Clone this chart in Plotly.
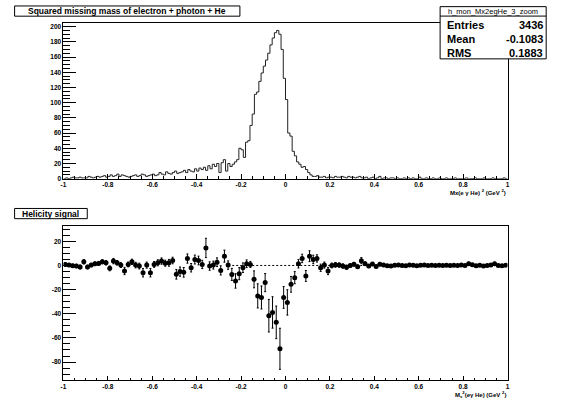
import numpy as np
import plotly.graph_objects as go

W, H = 569, 409

# squared missing mass histogram, 200 bins of 0.01 from -1 to 1
mm2_counts = [
    0, 1, 0, 1, 2, 1, 1, 2, 1, 1,
    1, 3, 2, 1, 2, 3, 2, 3, 4, 2,
    3, 5, 3, 4, 6, 3, 5, 4, 3, 2,
    3, 4, 5, 3, 4, 6, 5, 3, 4, 5,
    6, 4, 5, 8, 6, 5, 9, 7, 6, 8,
    10, 7, 8, 9, 11, 8, 12, 10, 9, 13,
    10, 14, 12, 15, 11, 17, 13, 19, 16, 20,
    8, 21, 25, 10, 20, 16, 19, 22, 25, 40,
    38, 28, 48, 50, 70, 85, 111, 114, 128, 139,
    148, 156, 165, 176, 185, 192, 195, 190, 170, 132,
    104, 60, 56, 36, 30, 22, 19, 15, 16, 12,
    8, 5, 3, 3, 4, 2, 2, 3, 1, 2,
    2, 1, 3, 2, 2, 3, 2, 1, 3, 2,
    2, 1, 2, 3, 1, 1, 2, 0, 1, 2,
    0, 1, 3, 0, 1, 1, 0, 1, 1, 0,
    1, 0, 0, 1, 0, 1, 0, 1, 0, 0,
    2, 0, 0, 1, 0, 0, 1, 0, 0, 1,
    0, 0, 1, 0, 0, 0, 1, 0, 0, 0,
    0, 1, 0, 0, 0, 1, 0, 0, 0, 1,
    0, 0, 0, 1, 0, 0, 0, 0, 1, 0,
]

# helicity signal, 120 bins from -1 to 1
hel_values = [
    0.85, 0.3, -0.2, -0.5, -1.3, 3, -1.3, 0.3, 1.4, 1.7,
    3, 2.2, -2.4, 3.6, 2.2, 0.3, -4.6, 0.85, 3, 0.3,
    -0.5, -6, 0.3, -6, 0.85, 2.2, 3.6, 1.9, 2.2, 4.1,
    -7.3, -5.1, -5.7, 5.7, -1.9, 4.9, 4.1, 0.85, 14.5, -0.5,
    0.3, 2.7, -4.1, 7.7, 0.3, -7.4, -12.8, -6.8, -1.9, 1.4,
    0.85, -11.5, -25.2, -26.5, -14.2, -41.6, -38.9, -47.1, -69, -26.5,
    -30.6, -15.6, -10.1, 1.4, 5.8, -8.7, 7.7, 5, 5.8, -1.9,
    0.3, -4.6, 0, 0.5, 0.3, -0.5, -1.5, 0, 1, -1,
    4, 1.5, -0.5, 1.2, -0.8, 1, 0.3, -0.3, -0.5, 0.2,
    0.4, 0, -0.3, 0.3, 0.2, -0.2, 0.1, 0.3, 0, 0.2,
    -0.1, 0.1, 0, 0.2, 0, 0.1, -0.1, 0.4, 0, 1.5,
    0.5, -0.3, 0.2, -0.5, 0, 0.3, 1.5, 0, -0.3, 0.2,
]
hel_errors = [
    1.5, 1.2, 1.3, 1.4, 1.6, 1.8, 1.5, 1.4, 1.5, 1.6,
    1.7, 1.8, 2.0, 2.2, 1.9, 2.0, 3.0, 2.0, 2.2, 2.3,
    2.4, 3.5, 2.5, 3.5, 2.4, 2.5, 2.6, 2.5, 2.8, 2.7,
    4.0, 3.8, 4.0, 3.8, 3.5, 3.7, 3.6, 3.4, 8, 3.5,
    3.3, 3.6, 3.8, 5, 3.5, 5, 6, 5, 4, 3.2,
    2.5, 7, 10, 9.5, 7.5, 13.5, 13, 13.5, 17, 9,
    10.5, 6.5, 5, 3.5, 3.5, 4.5, 4.5, 3.5, 3, 3,
    2.5, 3, 2, 2, 1.8, 1.8, 1.8, 1.5, 1.5, 1.5,
    2.5, 1.5, 1.3, 1.3, 1.2, 1.2, 1.1, 1.1, 1.0, 1.0,
    1.0, 1.0, 0.9, 0.9, 0.9, 0.9, 0.8, 0.8, 0.8, 0.8,
    0.8, 0.8, 0.8, 0.8, 0.8, 0.8, 0.8, 0.8, 0.8, 1.2,
    0.8, 0.8, 0.8, 0.8, 0.8, 0.8, 1.2, 0.8, 0.8, 0.8,
]

x_tick_vals = [-1, -0.8, -0.6, -0.4, -0.2, 0, 0.2, 0.4, 0.6, 0.8, 1]
x_tick_text = ["-1", "-0.8", "-0.6", "-0.4", "-0.2", "0", "0.2", "0.4", "0.6", "0.8", "1"]
top_y_ticks = [0, 20, 40, 60, 80, 100, 120, 140, 160, 180, 200]
bot_y_ticks = [-80, -60, -40, -20, 0, 20]
bot_y_text = ["-80", "-60", "-40", "-20", "0", "20"]

stats_name = "h_mon_Mx2egHe_3_zoom"
stats_rows = [("Entries", "3436"), ("Mean", "-0.1083"), ("RMS", "0.1883")]

FONT = "Liberation Sans"


def px(x):
    return x / W


def py(y):
    return 1 - y / H


edges = np.linspace(-1, 1, len(mm2_counts) + 1)
step_y = list(mm2_counts) + [mm2_counts[-1]]
centers = -1 + (np.arange(len(hel_values)) + 0.5) * (2 / len(hel_values))

fig = go.Figure()

fig.add_trace(go.Scatter(
    x=edges, y=step_y, mode="lines", line_shape="hv",
    line=dict(color="#222", width=1), xaxis="x", yaxis="y", hoverinfo="skip"))

# zero reference line under the points
fig.add_trace(go.Scatter(
    x=[-0.24, 1], y=[0, 0], mode="lines",
    line=dict(color="black", width=1, dash="2px,2px"), xaxis="x2", yaxis="y2"))

fig.add_trace(go.Scatter(
    x=centers, y=hel_values, mode="markers",
    marker=dict(color="black", size=5),
    error_y=dict(type="data", array=hel_errors, color="black", thickness=1, width=1),
    xaxis="x2", yaxis="y2"))

tickfont = dict(family=FONT, size=6.5, color="black", weight="bold")
common_x = dict(
    range=[-1, 1], tickmode="array", tickvals=x_tick_vals, ticktext=x_tick_text,
    ticks="inside", ticklen=4.5, tickcolor="black", tickfont=tickfont,
    showline=True, mirror=True, linecolor="black", linewidth=1,
    showgrid=False, zeroline=False,
    minor=dict(tick0=-1, dtick=0.05, ticks="inside", ticklen=2.5, tickcolor="black"),
)
common_y = dict(
    ticks="inside", ticklen=13, tickcolor="black", tickfont=tickfont,
    showline=True, mirror=True, linecolor="black", linewidth=1,
    showgrid=False, zeroline=False,
    minor=dict(dtick=5, ticks="inside", ticklen=7, tickcolor="black"),
)

fig.update_layout(
    width=W, height=H, autosize=False,
    margin=dict(l=0, r=0, t=0, b=0),
    paper_bgcolor="white", plot_bgcolor="white",
    showlegend=False,
    font=dict(family=FONT, color="black"),
    xaxis=dict(domain=[px(61), px(509)], anchor="y", **common_x),
    yaxis=dict(domain=[py(180), py(23)], anchor="x", range=[0, 205],
               tickmode="array", tickvals=top_y_ticks, **common_y),
    xaxis2=dict(domain=[px(61), px(509)], anchor="y2", **common_x),
    yaxis2=dict(domain=[py(383), py(228)], anchor="x2", range=[-95, 32.4],
                tickmode="array", tickvals=bot_y_ticks, ticktext=bot_y_text, **common_y),
)

shapes = []
annotations = []

# pad title boxes
for (x0, x1, y0, y1, text) in [
    (11.7, 239, 6, 16.3, "Squared missing mass of electron + photon + He"),
    (11.7, 85, 210, 220.3, "Helicity signal"),
]:
    shapes.append(dict(type="rect", xref="paper", yref="paper",
                       x0=px(x0), x1=px(x1), y0=py(y1), y1=py(y0),
                       line=dict(color="black", width=1), fillcolor="white"))
    annotations.append(dict(xref="paper", yref="paper", x=px((x0 + x1) / 2), y=py((y0 + y1) / 2),
                            text=text, showarrow=False, xanchor="center", yanchor="middle",
                            font=dict(family=FONT, size=8.5, weight="bold")))

# stats box
shapes.append(dict(type="rect", xref="paper", yref="paper",
                   x0=px(441), x1=px(548), y0=py(59.3), y1=py(6.7),
                   line=dict(color="black", width=1), fillcolor="white", layer="above"))
shapes.append(dict(type="line", xref="paper", yref="paper",
                   x0=px(441), x1=px(548), y0=py(16.2), y1=py(16.2),
                   line=dict(color="black", width=1)))
annotations.append(dict(xref="paper", yref="paper", x=px(494.5), y=py(11.6),
                        text=stats_name, showarrow=False, xanchor="center", yanchor="middle",
                        font=dict(family=FONT, size=7.5)))
for k, (label, val) in enumerate(stats_rows):
    yy = py(25 + 14.2 * k)
    annotations.append(dict(xref="paper", yref="paper", x=px(446), y=yy, text=label,
                            showarrow=False, xanchor="left", yanchor="middle",
                            font=dict(family=FONT, size=11, weight="bold")))
    annotations.append(dict(xref="paper", yref="paper", x=px(546.5), y=yy, text=val,
                            showarrow=False, xanchor="right", yanchor="middle",
                            font=dict(family=FONT, size=11, weight="bold")))

# axis titles
annotations.append(dict(xref="paper", yref="paper", x=px(509), y=py(193),
                        text="Mx(e \u03b3 He) <sup>2</sup> (GeV <sup>2</sup>)",
                        showarrow=False, xanchor="right", yanchor="middle",
                        font=dict(family=FONT, size=6, weight="bold")))
annotations.append(dict(xref="paper", yref="paper", x=px(509), y=py(397),
                        text="M<sub>x</sub><sup>2</sup>(e\u03b3 He) (GeV <sup>2</sup>)",
                        showarrow=False, xanchor="right", yanchor="middle",
                        font=dict(family=FONT, size=6, weight="bold")))

fig.update_layout(shapes=shapes, annotations=annotations)

# drop the default page margin so the canvas sits at the window corner
fig.write_html("out.html", config={"displayModeBar": False},
               post_script="document.body.style.margin='0';")
